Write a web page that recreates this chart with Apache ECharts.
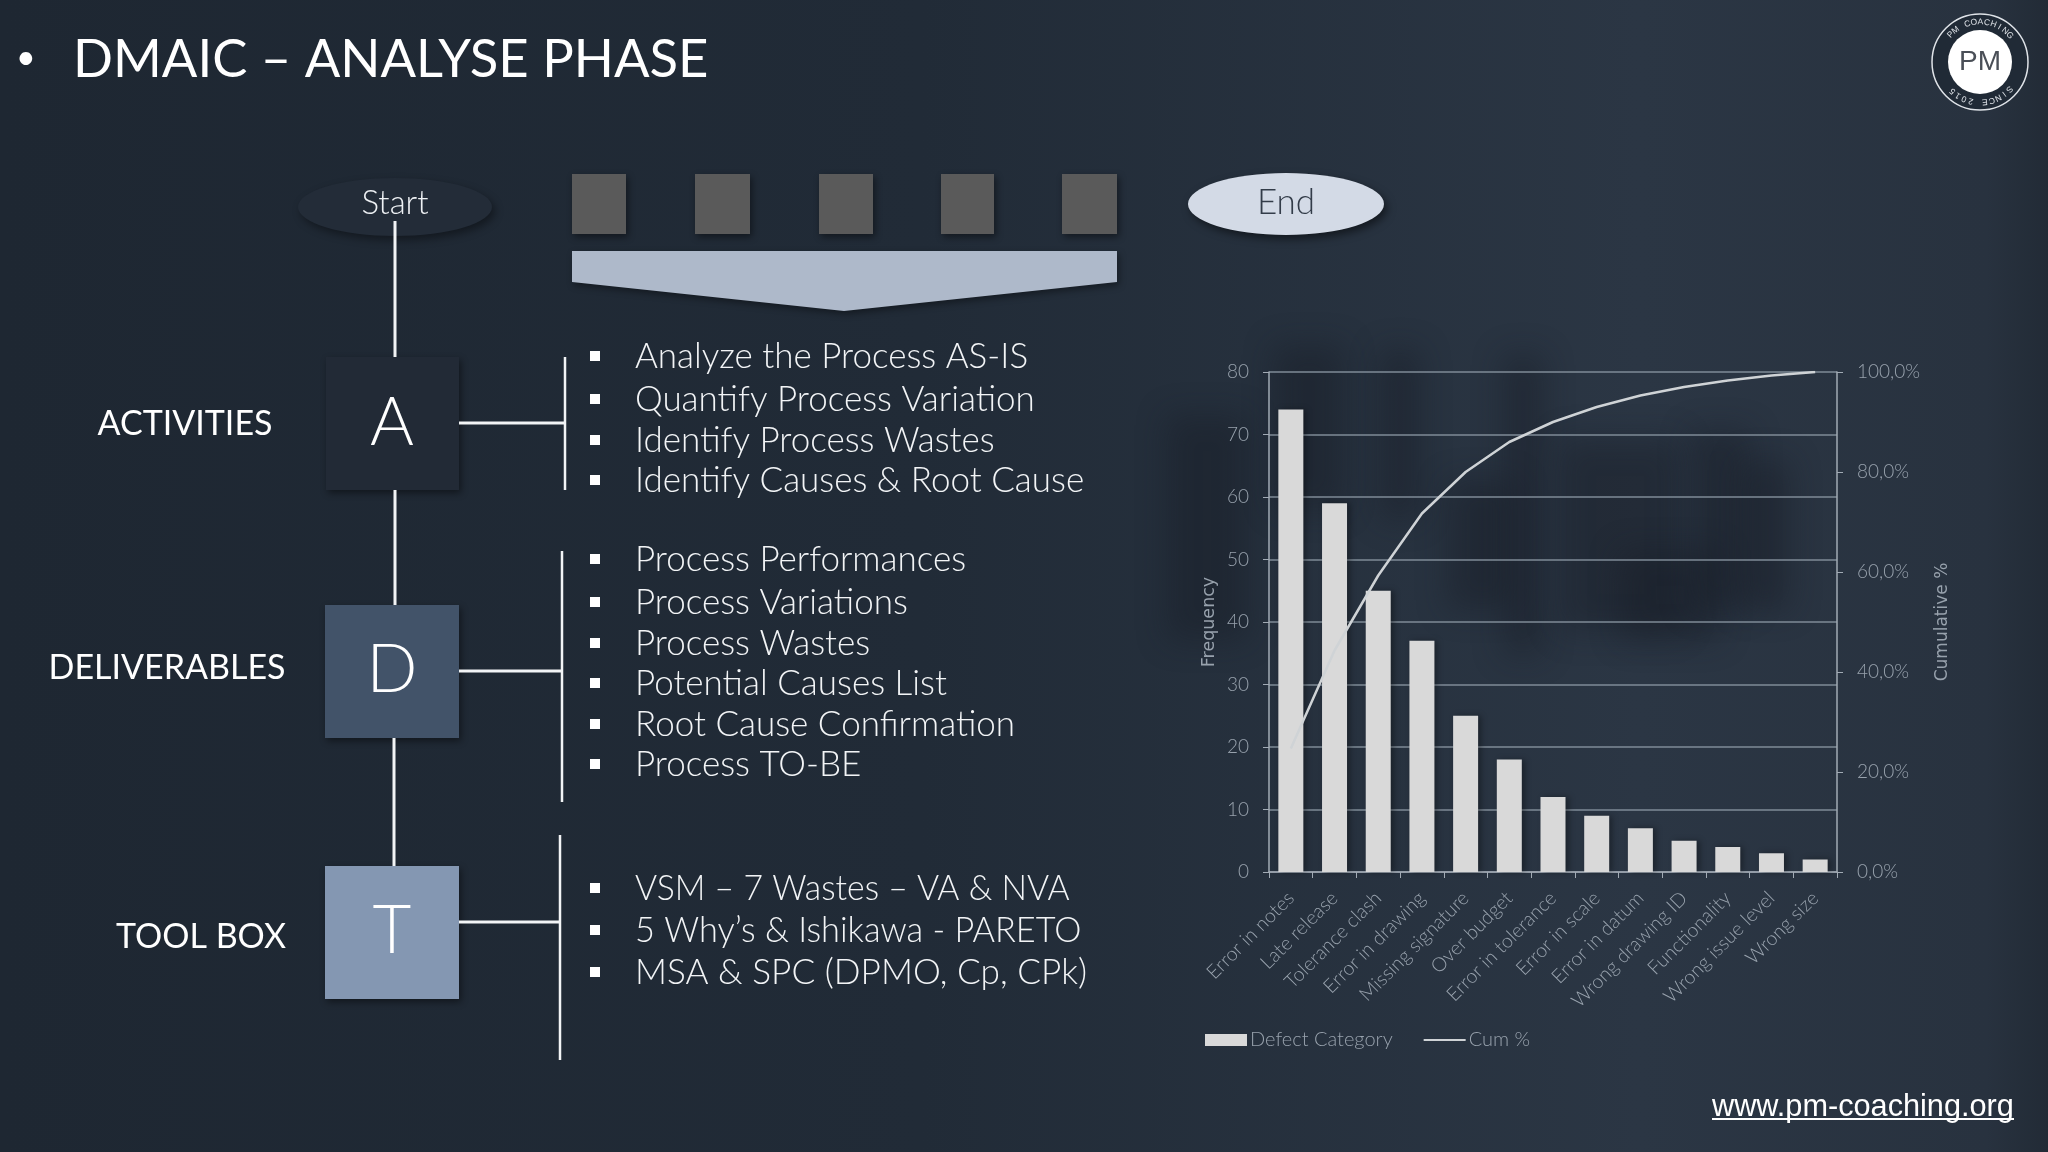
<!DOCTYPE html>
<html><head><meta charset="utf-8">
<style>html,body{margin:0;padding:0;background:#1f2833}#c{width:2048px;height:1152px}</style>
<script src="https://cdn.jsdelivr.net/npm/echarts@6/dist/echarts.min.js"></script>
</head><body><div id="c"></div>
<script>
const categories=['Error in notes','Late release','Tolerance clash','Error in drawing','Missing signature','Over budget','Error in tolerance','Error in scale','Error in datum','Wrong drawing ID','Functionality','Wrong issue level','Wrong size'];
const defectCounts=[74,59,45,37,25,18,12,9,7,5,4,3,2];
const cumulativePct=[24.7,44.3,59.3,71.7,80,86,90,93,95.3,97,98.3,99.3,100];
const activities=['Analyze the Process AS-IS','Quantify Process Variation','Identify Process Wastes','Identify Causes & Root Cause'];
const activityY=[357,400,441,481];
const deliverables=['Process Performances','Process Variations','Process Wastes','Potential Causes List','Root Cause Confirmation','Process TO-BE'];
const deliverableY=[560,603,644,684,725,765];
const tools=['VSM – 7 Wastes – VA & NVA','5 Why’s & Ishikawa - PARETO','MSA & SPC (DPMO, Cp, CPk)'];
const toolY=[889,931,973];
const toolStretch=[0.965,0.98,1.006];

const F='Lato, "Open Sans", sans-serif';
const AX='#98a2ad';
const g=[];
const txt=(t,x,y,size,fill,align,weight,fam,sx)=>g.push({type:'text',x,y,scaleX:sx||1,silent:true,z:10,style:{text:t,fill,font:(weight||300)+' '+size+'px '+(fam||F),textAlign:align||'left',textVerticalAlign:'middle'}});
const rect=(x,y,w,h,fill,sh)=>g.push({type:'rect',silent:true,z:5,shape:{x,y,width:w,height:h},style:{fill,shadowBlur:sh?7:0,shadowOffsetX:sh?2:0,shadowOffsetY:sh?3:0,shadowColor:'rgba(0,0,0,.45)'}});
const ln=(x1,y1,x2,y2,w)=>g.push({type:'line',silent:true,z:6,shape:{x1,y1,x2,y2},style:{stroke:'#f2f4f6',lineWidth:w||2.5}});

// blurred watermark behind the chart
[[1167,415,80,225],[1274,345,70,165],[1380,350,40,170],[1447,480,70,130],[1503,355,40,300],[1560,440,120,190],[1620,550,100,90],[1690,430,60,180],[1740,460,50,150]].forEach(b=>{
  g.push({type:'rect',silent:true,z:-5,shape:{x:b[0]-4000,y:b[1],width:b[2],height:b[3]},style:{fill:'#000',shadowBlur:30,shadowOffsetX:4000,shadowColor:'rgba(24,29,37,.42)'}});
});

// title
txt('•',16,58,34,'#fff','left',400);
txt('DMAIC – ANALYSE PHASE',73,60,52.6,'#fff','left',400);

// start / end
g.push({type:'ellipse',silent:true,z:5,shape:{cx:395,cy:207,rx:97,ry:29},style:{fill:'#232c38',shadowBlur:8,shadowOffsetX:3,shadowOffsetY:4,shadowColor:'rgba(0,0,0,.4)'}});
txt('Start',395,203,33,'#eef1f4','center',300);
g.push({type:'ellipse',silent:true,z:5,shape:{cx:1286,cy:204,rx:98,ry:31},style:{fill:'#d3dae6',shadowBlur:8,shadowOffsetX:3,shadowOffsetY:4,shadowColor:'rgba(0,0,0,.5)'}});
txt('End',1286,203,35,'#333c49','center',300);

// process squares + arrow
[[572,54],[695,55],[819,54],[941,53],[1062,55]].forEach(s=>rect(s[0],174,s[1],60,'#5a5a5a',true));
g.push({type:'polygon',silent:true,z:5,shape:{points:[[572,251],[1117,251],[1117,282],[844,311],[572,282]]},style:{fill:'#aeb9ca',shadowBlur:7,shadowOffsetX:2,shadowOffsetY:3,shadowColor:'rgba(0,0,0,.4)'}});

// spine
ln(395,221,395,357,3);ln(395,490,395,605,3);ln(394,738,394,866,3);

// letter boxes
rect(326,357,133,133,'#222a36',true);rect(325,605,134,133,'#425369',true);rect(325,866,134,133,'#8497b2',true);
txt('A',392,423,67,'#fff','center',300);
txt('D',392,670,67,'#fff','center',300);
txt('T',392,931,67,'#fff','center',300);
txt('ACTIVITIES',185,424,34,'#fff','center',400);
txt('DELIVERABLES',167,668,34,'#fff','center',400);
txt('TOOL BOX',201,937,34,'#fff','center',400);

// brackets
ln(459,423,565,423,3);ln(565,357,565,490,2.5);
ln(459,671,562,671,3);ln(562,551,562,802,2.5);
ln(459,922,560,922,3);ln(560,835,560,1060,2.5);

// bullet lists
[[activities,activityY],[deliverables,deliverableY],[tools,toolY,toolStretch]].forEach(([items,ys,st])=>items.forEach((t,i)=>{
  rect(590,ys[i]-6,10,10,'#fff');
  txt(t,635,ys[i],35,'#f2f4f6','left',300,null,st?st[i]:1);
}));

// logo
const cx=1980,cy=62;
g.push({type:'circle',silent:true,z:5,shape:{cx,cy,r:48},style:{fill:'#202a36',stroke:'#dfe3e8',lineWidth:1.5}});
g.push({type:'circle',silent:true,z:6,shape:{cx,cy,r:32},style:{fill:'#fff'}});
txt('PM',cx,cy,28,'#4a4f57','center',400,'"Liberation Sans", sans-serif');
const ring=(s,start,step)=>[...s].forEach((c,i)=>{
  const a=start+i*step;
  g.push({type:'text',silent:true,z:7,x:cx+40*Math.cos(a),y:cy-40*Math.sin(a),rotation:a-Math.PI/2,style:{text:c,fill:'#dfe3e8',font:'400 8.5px "Liberation Sans", sans-serif',textAlign:'center',textVerticalAlign:'middle'}});
});
ring('PM COACHING',2.39,-0.166);
ring('SINCE 2015',-0.75,-0.175);

// url
txt('www.pm-coaching.org',1712,1108,30.7,'#fff','left',400,'"Liberation Sans", sans-serif');
g.push({type:'line',silent:true,z:6,shape:{x1:1712,y1:1119,x2:2014,y2:1119},style:{stroke:'#fff',lineWidth:2}});

const chart=echarts.init(document.getElementById('c'));
chart.setOption({
  animation:false,
  backgroundColor:new echarts.graphic.LinearGradient(0,0,1,0,[{offset:0,color:'#1e2732'},{offset:.45,color:'#212b37'},{offset:.8,color:'#2b3644'},{offset:.97,color:'#28323f'},{offset:1,color:'#222b36'}]),
  graphic:{elements:g},
  grid:{left:1269,top:372,width:568,height:500,containLabel:false},
  legend:{left:1200,top:1025,itemWidth:42,itemHeight:12,itemGap:30,textStyle:{color:AX,fontFamily:F,fontWeight:300,fontSize:20,padding:[0,0,0,-2]},data:[{name:'Defect Category',icon:'rect'},{name:'Cum %',itemStyle:{opacity:0}}]},
  xAxis:{type:'category',data:categories,axisLine:{lineStyle:{color:'#a2abb5',width:1.5}},axisTick:{show:true,length:6,lineStyle:{color:'#a2abb5'},alignWithLabel:false},axisLabel:{rotate:45,interval:0,color:AX,fontFamily:F,fontWeight:300,fontSize:19.5,margin:23},splitLine:{show:false}},
  yAxis:[
    {type:'value',min:0,max:80,interval:10,name:'Frequency',nameLocation:'middle',nameRotate:90,nameGap:51,nameTextStyle:{color:AX,fontFamily:'"DejaVu Sans", sans-serif',fontSize:17.5},
     axisLine:{show:true,lineStyle:{color:'#a2abb5',width:1.5}},axisTick:{show:true,length:6,lineStyle:{color:'#a2abb5'}},axisLabel:{color:AX,fontFamily:F,fontWeight:300,fontSize:19,margin:20},splitLine:{show:true,lineStyle:{color:'#7f8b97',width:1.5}}},
    {type:'value',min:0,max:100,interval:20,name:'Cumulative %',nameLocation:'middle',nameRotate:90,nameGap:97,nameTextStyle:{color:AX,fontFamily:'"DejaVu Sans", sans-serif',fontSize:17},
     axisLine:{show:true,lineStyle:{color:'#a2abb5',width:1.5}},axisTick:{show:true,length:6,lineStyle:{color:'#a2abb5'}},splitLine:{show:false},axisLabel:{color:AX,fontFamily:F,fontWeight:300,fontSize:19,margin:20,formatter:v=>v.toFixed(1).replace('.',',')+'%'}}
  ],
  series:[
    {name:'Defect Category',type:'bar',data:defectCounts,barWidth:25,z:3,itemStyle:{color:'#d9d9d9',shadowBlur:6,shadowOffsetX:3,shadowColor:'rgba(0,0,0,.35)'}},
    {name:'Cum %',type:'line',yAxisIndex:1,data:cumulativePct,symbol:'none',z:4,lineStyle:{color:'#cfd3d6',width:2.5},itemStyle:{color:'#cfd3d6'}}
  ]
});
</script></body></html>
